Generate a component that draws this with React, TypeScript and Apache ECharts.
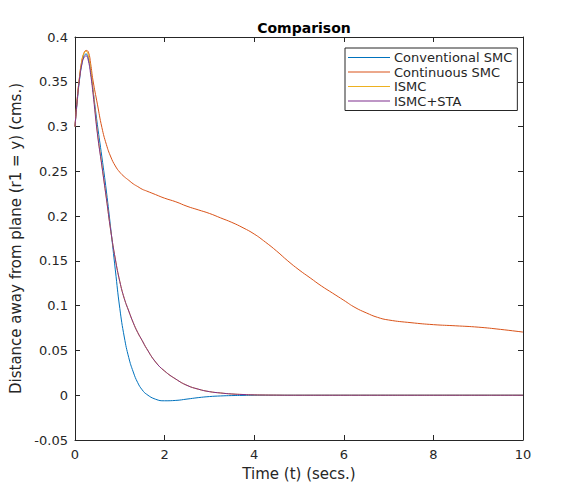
import React, { useEffect, useRef } from 'react';
import * as echarts from 'echarts';

const timeSecs = [
  0, 0.05, 0.1, 0.15, 0.2, 0.25, 0.3, 0.35, 0.4,
  0.5, 0.6, 0.7, 0.8, 0.9, 1.0, 1.1, 1.2, 1.3, 1.4, 1.5, 1.6,
  1.8, 2.0,
  2.25, 2.5, 2.75, 3.0, 3.25, 3.5, 3.75, 4.0,
  4.25, 4.5, 4.75, 5.0, 5.25, 5.5, 5.75, 6.0, 6.25, 6.5, 6.75, 7.0,
  7.5, 8.0, 8.5, 9.0, 9.5, 10,
];

const conventionalSmc = [
  0.300, 0.328, 0.352, 0.369, 0.379, 0.381, 0.376, 0.362, 0.342,
  0.302, 0.266, 0.228, 0.185, 0.140, 0.097, 0.065, 0.042, 0.026, 0.014, 0.006, 0.001,
  -0.0045, -0.0062,
  -0.0058, -0.0043, -0.0027, -0.0015, -0.0008, -0.0004, -0.0002, -0.0001,
  0, 0, 0, 0, 0, 0, 0, 0, 0, 0, 0, 0,
  0, 0, 0, 0, 0, 0,
];

const continuousSmc = [
  0.300, 0.331, 0.355, 0.373, 0.382, 0.385, 0.383, 0.370, 0.352,
  0.325, 0.299, 0.280, 0.266, 0.256, 0.249, 0.244, 0.240, 0.236, 0.233, 0.230, 0.228,
  0.224, 0.220,
  0.216, 0.211, 0.207, 0.203, 0.198, 0.193, 0.187, 0.180,
  0.171, 0.161, 0.150, 0.140, 0.131, 0.122, 0.114, 0.106, 0.098, 0.092, 0.087, 0.084,
  0.081, 0.0788, 0.0775, 0.076, 0.0735, 0.0705,
];

const ismc = [
  0.300, 0.331, 0.355, 0.372, 0.382, 0.384, 0.379, 0.363, 0.342,
  0.294, 0.257, 0.220, 0.183, 0.152, 0.127, 0.108, 0.094, 0.081, 0.070, 0.061, 0.052,
  0.037, 0.027,
  0.018, 0.011, 0.0068, 0.0040, 0.0025, 0.0014, 0.0008, 0.0004,
  0.0002, 0.0001, 0, 0, 0, 0, 0, 0, 0, 0, 0, 0,
  0, 0, 0, 0, 0, 0,
];

const ismcSta = [
  0.300, 0.330, 0.353, 0.369, 0.377, 0.379, 0.373, 0.358, 0.338,
  0.292, 0.256, 0.220, 0.183, 0.152, 0.127, 0.108, 0.094, 0.081, 0.070, 0.061, 0.052,
  0.037, 0.027,
  0.018, 0.011, 0.0068, 0.0040, 0.0025, 0.0014, 0.0008, 0.0004,
  0.0002, 0.0001, 0, 0, 0, 0, 0, 0, 0, 0, 0, 0,
  0, 0, 0, 0, 0, 0,
];

const seriesNames = ['Conventional SMC', 'Continuous SMC', 'ISMC', 'ISMC+STA'];
const seriesColors = ['#0072BD', '#D95319', '#EDB120', '#7E2F8E'];
const seriesValues = [conventionalSmc, continuousSmc, ismc, ismcSta];

const FONT = '"DejaVu Sans", sans-serif';
const INK = '#262626';
const LEGEND_LINE = 'path://M0,0H42V1H0Z';

const App: React.FC = () => {
  const chartRef = useRef<HTMLDivElement>(null);

  useEffect(() => {
    document.body.style.margin = '0';
    if (!chartRef.current) return;
    const chart = echarts.init(chartRef.current, undefined, { renderer: 'svg' });

    const axisBase = {
      type: 'value' as const,
      axisLine: { show: true, onZero: false, lineStyle: { color: INK, width: 1 } },
      axisTick: { show: true, inside: true, length: 5, lineStyle: { color: INK } },
      splitLine: { show: false },
    };

    chart.setOption({
      animation: false,
      backgroundColor: '#ffffff',
      textStyle: { fontFamily: FONT },
      title: {
        text: 'Comparison',
        left: 299,
        top: 16,
        textAlign: 'center',
        textStyle: { fontFamily: FONT, fontSize: 14, fontWeight: 'bold', color: '#000' },
      },
      grid: { left: 75, top: 37, right: 56, bottom: 55 },
      legend: {
        orient: 'vertical',
        left: 345,
        top: 48,
        padding: [3, 5, 3, 3],
        itemWidth: 42,
        itemHeight: 14,
        itemGap: 1.5,
        icon: LEGEND_LINE,
        borderColor: INK,
        borderWidth: 1,
        backgroundColor: '#ffffff',
        textStyle: { fontFamily: FONT, fontSize: 13, color: INK, padding: [0, 0, 0, -1] },
        data: seriesNames,
      },
      xAxis: [
        {
          ...axisBase,
          position: 'bottom',
          min: 0,
          max: 10,
          interval: 2,
          name: 'Time (t) (secs.)',
          nameLocation: 'middle',
          nameGap: 26,
          nameTextStyle: { fontFamily: FONT, fontSize: 15, color: INK },
          axisLabel: { fontFamily: FONT, fontSize: 13, color: INK, margin: 8 },
        },
        {
          ...axisBase,
          position: 'top',
          min: 0,
          max: 10,
          interval: 2,
          axisLabel: { show: false },
        },
      ],
      yAxis: [
        {
          ...axisBase,
          position: 'left',
          min: -0.05,
          max: 0.4,
          interval: 0.05,
          name: 'Distance away from plane (r1 = y) (cms.)',
          nameLocation: 'middle',
          nameGap: 45,
          nameTextStyle: { fontFamily: FONT, fontSize: 15, color: INK },
          axisLabel: { fontFamily: FONT, fontSize: 13, color: INK, margin: 7 },
        },
        {
          ...axisBase,
          position: 'right',
          min: -0.05,
          max: 0.4,
          interval: 0.05,
          axisLabel: { show: false },
        },
      ],
      series: seriesNames.map((name, i) => ({
        name,
        type: 'line',
        xAxisIndex: 0,
        yAxisIndex: 0,
        symbol: 'none',
        smooth: 0.5,
        color: seriesColors[i],
        lineStyle: { width: 1, color: seriesColors[i] },
        data: timeSecs.map((t, k) => [t, seriesValues[i][k]]),
      })),
    });

    return () => chart.dispose();
  }, []);

  return <div ref={chartRef} style={{ width: 579, height: 495 }} />;
};

export default App;
